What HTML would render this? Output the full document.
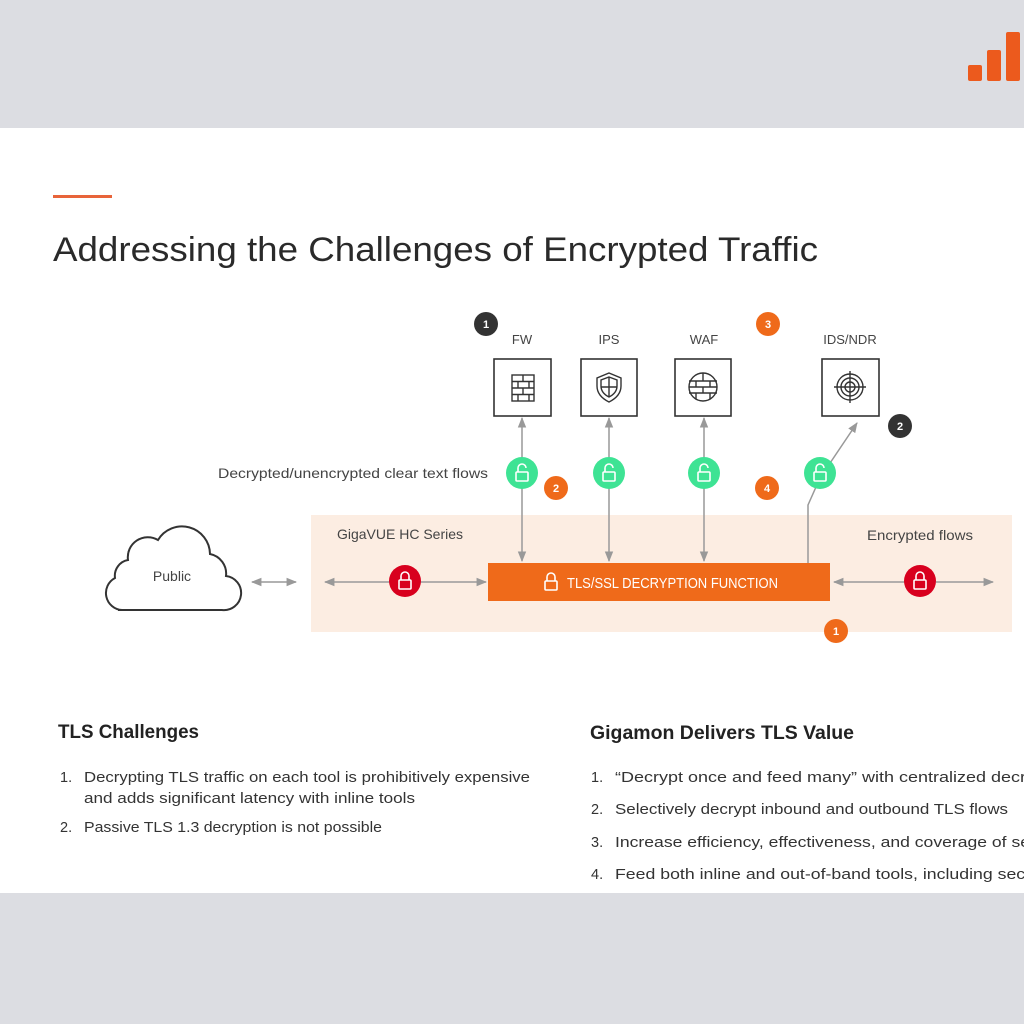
<!DOCTYPE html>
<html><head><meta charset="utf-8"><style>
html,body{margin:0;padding:0;width:1024px;height:1024px;overflow:hidden;background:#fff}
svg{display:block}
text{font-family:"Liberation Sans",sans-serif}
</style></head><body>
<svg width="1024" height="1024" viewBox="0 0 1024 1024" xmlns="http://www.w3.org/2000/svg">
<defs>
<marker id="ah" viewBox="0 0 10 10" refX="9" refY="5" markerWidth="7" markerHeight="7" orient="auto-start-reverse"><path d="M0,1 L10,5 L0,9 z" fill="#999"/></marker>
<g id="lock"><path d="M-4,-1 v-4 a4,4 0 0 1 8,0 v4" fill="none" stroke="#fff" stroke-width="1.6"/><rect x="-6" y="-1" width="12" height="9" rx="1" fill="none" stroke="#fff" stroke-width="1.6"/></g>
<g id="ulock"><path d="M-4,-1 v-4 a4,4 0 0 1 8,0" fill="none" stroke="#fff" stroke-width="1.6"/><rect x="-6" y="-1" width="12" height="9" rx="1" fill="none" stroke="#fff" stroke-width="1.6"/></g>
</defs>
<rect x="0" y="0" width="1024" height="128" fill="#dcdde2"/>
<rect x="0" y="893" width="1024" height="131" fill="#dcdde2"/>
<rect x="968" y="65" width="14" height="16" rx="2" fill="#ec5a1d"/>
<rect x="987" y="50" width="14" height="31" rx="2" fill="#ec5a1d"/>
<rect x="1006" y="32" width="14" height="49" rx="2" fill="#ec5a1d"/>
<rect x="53" y="195" width="59" height="3" fill="#e8643a"/>
<text x="53" y="261" font-size="34" fill="#2a2a2a" textLength="765" lengthAdjust="spacingAndGlyphs">Addressing the Challenges of Encrypted Traffic</text>

<!-- band -->
<rect x="311" y="515" width="701" height="117" fill="#fcede2"/>
<text x="337" y="539" font-size="14" fill="#444" textLength="126" lengthAdjust="spacingAndGlyphs">GigaVUE HC Series</text>
<text x="867" y="540" font-size="14" fill="#444" textLength="106" lengthAdjust="spacingAndGlyphs">Encrypted flows</text>
<text x="218" y="478" font-size="14" fill="#444" textLength="270" lengthAdjust="spacingAndGlyphs">Decrypted/unencrypted clear text flows</text>

<!-- cloud -->
<path d="M118,610 H222 a17,17 0 0 0 4,-34 a20,20 0 0 0 -16,-22 a28,28 0 0 0 -52,-14 a20,20 0 0 0 -30,20 a16,16 0 0 0 -13,18 a17,17 0 0 0 7,32 z" fill="#fff" stroke="#333" stroke-width="2"/>
<text x="172" y="581" font-size="14" fill="#444" text-anchor="middle">Public</text>

<!-- arrows -->
<g stroke="#999" stroke-width="1.5" fill="none">
<line x1="252" y1="582" x2="296" y2="582" marker-start="url(#ah)" marker-end="url(#ah)"/>
<line x1="325" y1="582" x2="390" y2="582" marker-start="url(#ah)"/>
<line x1="420" y1="582" x2="486" y2="582" marker-end="url(#ah)"/>
<line x1="834" y1="582" x2="905" y2="582" marker-start="url(#ah)"/>
<line x1="936" y1="582" x2="993" y2="582" marker-end="url(#ah)"/>
<line x1="522" y1="418" x2="522" y2="561" marker-start="url(#ah)" marker-end="url(#ah)"/>
<line x1="609" y1="418" x2="609" y2="561" marker-start="url(#ah)" marker-end="url(#ah)"/>
<line x1="704" y1="418" x2="704" y2="561" marker-start="url(#ah)" marker-end="url(#ah)"/>
<polyline points="808,563 808,505 820,478 857,423" marker-end="url(#ah)"/>
</g>

<!-- bar -->
<rect x="488" y="563" width="342" height="38" fill="#ef6a1a"/>
<use href="#lock" x="551" y="582"/>
<text x="567" y="588" font-size="15" fill="#fff" textLength="211" lengthAdjust="spacingAndGlyphs">TLS/SSL DECRYPTION FUNCTION</text>

<!-- red locks -->
<circle cx="405" cy="581" r="16" fill="#d8001e"/><use href="#lock" x="405" y="581"/>
<circle cx="920" cy="581" r="16" fill="#d8001e"/><use href="#lock" x="920" y="581"/>

<!-- green -->
<circle cx="522" cy="473" r="16" fill="#3ee394"/><use href="#ulock" x="522" y="473"/>
<circle cx="609" cy="473" r="16" fill="#3ee394"/><use href="#ulock" x="609" y="473"/>
<circle cx="704" cy="473" r="16" fill="#3ee394"/><use href="#ulock" x="704" y="473"/>
<circle cx="820" cy="473" r="16" fill="#3ee394"/><use href="#ulock" x="820" y="473"/>

<!-- boxes -->
<g fill="#fff" stroke="#333" stroke-width="1.6">
<rect x="494" y="359" width="57" height="57"/>
<rect x="581" y="359" width="56" height="57"/>
<rect x="675" y="359" width="56" height="57"/>
<rect x="822" y="359" width="57" height="57"/>
</g>
<g font-size="13" fill="#444" text-anchor="middle">
<text x="522" y="344">FW</text><text x="609" y="344">IPS</text><text x="704" y="344">WAF</text><text x="850" y="344">IDS/NDR</text>
</g>
<!-- icons -->
<g fill="none" stroke="#333" stroke-width="1.4">
<rect x="512" y="375" width="22" height="26"/>
<path d="M512,381.5h22M512,388h22M512,394.5h22M523,375v6.5M518,381.5v6.5M529,381.5v6.5M523,388v6.5M518,394.5v6.5M529,394.5v6.5"/>
<path d="M609,373 l12,5 v8 c0,8 -6,13 -12,16 c-6,-3 -12,-8 -12,-16 v-8 z"/>
<path d="M609,377 l8,3 v6 c0,6 -4,9 -8,11 c-4,-2 -8,-5 -8,-11 v-6 z M609,377v20M601,387h16"/>
<circle cx="703" cy="387" r="14"/>
<path d="M689,381h28M689,387h28M689,393h28M703,373v8M696,381v6M710,381v6M703,387v6M696,393v6M710,393v6"/>
<circle cx="850" cy="387" r="13"/><circle cx="850" cy="387" r="9"/><circle cx="850" cy="387" r="5"/>
<path d="M834,387h32M850,371v32"/>
</g>

<!-- badges -->
<g font-size="11" font-weight="bold" fill="#fff" text-anchor="middle">
<circle cx="486" cy="324" r="12" fill="#333"/><text x="486" y="328">1</text>
<circle cx="900" cy="426" r="12" fill="#333"/><text x="900" y="430">2</text>
<circle cx="768" cy="324" r="12" fill="#ef6a1a"/><text x="768" y="328">3</text>
<circle cx="556" cy="488" r="12" fill="#ef6a1a"/><text x="556" y="492">2</text>
<circle cx="767" cy="488" r="12" fill="#ef6a1a"/><text x="767" y="492">4</text>
<circle cx="836" cy="631" r="12" fill="#ef6a1a"/><text x="836" y="635">1</text>
</g>

<!-- bottom -->
<text x="58" y="738" font-size="19" font-weight="bold" fill="#222" textLength="141" lengthAdjust="spacingAndGlyphs">TLS Challenges</text>
<text x="590" y="739" font-size="19" font-weight="bold" fill="#222" textLength="264" lengthAdjust="spacingAndGlyphs">Gigamon Delivers TLS Value</text>
<g font-size="14.5" fill="#333">
<text x="60" y="782">1.</text><text x="84" y="782" textLength="446" lengthAdjust="spacingAndGlyphs">Decrypting TLS traffic on each tool is prohibitively expensive</text>
<text x="84" y="803" textLength="331" lengthAdjust="spacingAndGlyphs">and adds significant latency with inline tools</text>
<text x="60" y="832">2.</text><text x="84" y="832" textLength="298" lengthAdjust="spacingAndGlyphs">Passive TLS 1.3 decryption is not possible</text>
<text x="591" y="782">1.</text><text x="615" y="782" textLength="420" lengthAdjust="spacingAndGlyphs">“Decrypt once and feed many” with centralized decry</text>
<text x="591" y="814">2.</text><text x="615" y="814" textLength="393" lengthAdjust="spacingAndGlyphs">Selectively decrypt inbound and outbound TLS flows</text>
<text x="591" y="847">3.</text><text x="615" y="847" textLength="415" lengthAdjust="spacingAndGlyphs">Increase efficiency, effectiveness, and coverage of se</text>
<text x="591" y="879">4.</text><text x="615" y="879" textLength="420" lengthAdjust="spacingAndGlyphs">Feed both inline and out-of-band tools, including secu</text>
</g>
</svg>
</body></html>
